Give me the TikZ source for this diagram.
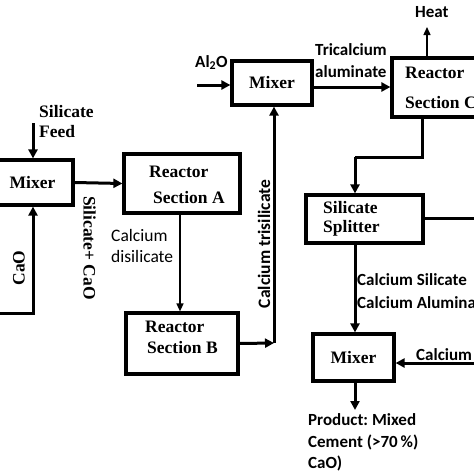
\documentclass[tikz,border=0pt]{standalone}
\usepackage{fontspec}
\setmainfont{Liberation Serif}
\newfontfamily\carl{Carlito}
\usetikzlibrary{arrows.meta}
\frenchspacing
\begin{document}
\begin{tikzpicture}[x=1pt,y=-1pt,
  box/.style={draw,line width=3.2pt,inner sep=0pt,font=\fontsize{17.5}{21}\selectfont\bfseries},
  boxtxt/.style={font=\fontsize{17.5}{21}\selectfont\bfseries,anchor=base west,inner sep=0pt},
  lbl/.style={font=\carl\fontsize{17}{21}\selectfont\bfseries,anchor=base west,inner sep=0pt},
  lblr/.style={font=\carl\fontsize{17.5}{21}\selectfont,anchor=base west,inner sep=0pt},
  slbl/.style={font=\fontsize{17.5}{21}\selectfont\bfseries,inner sep=0pt},
  flow/.style={line width=3pt,-{Triangle[length=9pt,width=9pt]}},
  thinflow/.style={line width=1.4pt,-{Triangle[length=8pt,width=7pt]}},
  pipe/.style={line width=3pt}]
\useasboundingbox (0,0) rectangle (474,474);
\clip (0,0) rectangle (474,474);
\fill[white] (0,0) rectangle (474,474);
% boxes
\node[box,minimum width=81pt,minimum height=45pt] (mixA) at (32.5,182.5) {Mixer};
\node[box,minimum width=116pt,minimum height=59pt] (reacA) at (182,183.5) {};
\node[box,minimum width=112pt,minimum height=61pt] (reacB) at (182,343.5) {};
\node[box,minimum width=80pt,minimum height=44pt] (mixB) at (272,83) {Mixer};
\node[box,minimum width=118pt,minimum height=59pt] (reacC) at (451,87.5) {};
\node[box,minimum width=117pt,minimum height=48pt] (split) at (364.5,219) {};
\node[box,minimum width=81pt,minimum height=47pt] (mixC) at (353.5,357.5) {Mixer};
% box texts
\node[boxtxt] (tA1) at (149,177) {Reactor};
\node[boxtxt] (tA2) at (153,203) {Section A};
\node[boxtxt] (tB1) at (145,332) {Reactor};
\node[boxtxt] (tB2) at (147,353) {Section B};
\node[boxtxt] (tC1) at (405,78) {Reactor};
\node[boxtxt] (tC2) at (405,108) {Section C};
\node[boxtxt] (tS1) at (323,213) {Silicate};
\node[boxtxt] (tS2) at (323,232) {Splitter};
% free ends
\coordinate (feed) at (33,123);
\coordinate (caoin) at (-10,313);
\coordinate (trib) at (274,343);
\coordinate (al) at (197,85);
\coordinate (tca) at (0,87);
\coordinate (heat) at (427,27);
\coordinate (cdown) at (422,157);
\coordinate (sx) at (355,0);
\coordinate (sout) at (490,218);
\coordinate (calin) at (490,363);
\coordinate (prod) at (355,410);
% connectors
\draw[flow] (feed) -- (mixA.north -| feed);
\draw[flow] (caoin) -| (mixA.south -| feed);
\draw[flow] (mixA.east) -- (reacA.west);
\draw[thinflow] (reacA.south -| 180,0) -- (reacB.north -| 180,0);
\draw[flow] (reacB.east) -- (trib);
\draw[flow] (trib) -- (mixB.south -| trib);
\draw[flow] (al) -- (mixB.west |- al);
\draw[flow] (mixB.east |- tca) -- (reacC.west |- tca);
\draw[thinflow] (reacC.north -| heat) -- (heat);
\draw[pipe] (reacC.south -| cdown) -- (cdown) -- (cdown -| sx);
\draw[flow] (cdown -| sx) -- (split.north -| sx);
\draw[pipe] (split.east |- sout) -- (sout);
\draw[flow] (split.south -| sx) -- (mixC.north -| sx);
\draw[flow] (calin) -- (mixC.east |- calin);
\draw[flow] (mixC.south -| sx) -- (prod);
% labels
\node[slbl,anchor=base west] (lsf1) at (39,117) {Silicate};
\node[slbl,anchor=base west] (lsf2) at (39,137) {Feed};
\node[slbl,rotate=90] (lcao) at (19,268) {CaO};
\node[slbl,rotate=-90] (lsc) at (89.5,248) {Silicate+ CaO};
\node[lblr] (lcd1) at (111,241) {Calcium};
\node[lblr] (lcd2) at (111,262) {disilicate};
\node[lbl,font=\carl\fontsize{17.5}{21}\selectfont\bfseries,anchor=center,rotate=90] (lct) at (264,244) {Calcium trisilicate};
\node[lbl] (lal) at (195,67) {Al\textsubscript{2}O};
\node[lbl] (ltc1) at (315,55) {Tricalcium};
\node[lbl] (ltc2) at (315,77) {aluminate};
\node[lbl] (lheat) at (415,17) {Heat};
\node[lbl] (lcs1) at (357,285) {Calcium Silicate};
\node[lbl] (lcs2) at (357,308) {Calcium Aluminate};
\node[lbl] (lcal) at (416,360) {Calcium};
\node[lbl] (lp1) at (308,425) {Product: Mixed};
\node[lbl] (lp2) at (308,447) {Cement (>70\,\%)};
\node[lbl] (lp3) at (308,468) {CaO)};
\end{tikzpicture}
\end{document}
